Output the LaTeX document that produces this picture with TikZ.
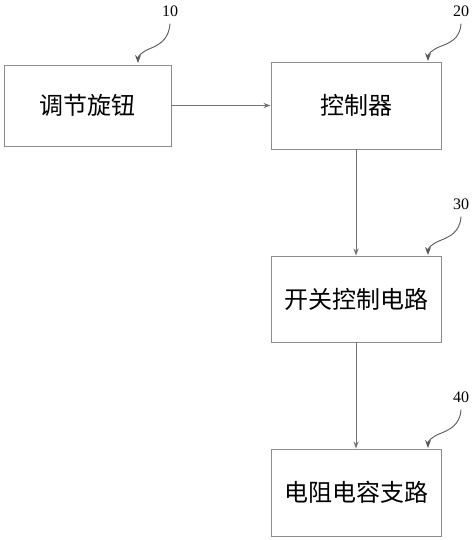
\documentclass[tikz,border=0pt]{standalone}
\usepackage{fontspec}
\setmainfont{Liberation Serif}
\newfontfamily\cjk{Noto Sans CJK SC}
\usetikzlibrary{arrows.meta,calc}
\begin{document}
\begin{tikzpicture}[x=1pt,y=-1pt,
  boxst/.style={draw=black!45,line width=0.9pt,minimum width=#1,inner sep=0pt,font=\cjk\fontsize{24}{24}\selectfont},
  conn/.style={draw=black!55,line width=0.9pt,-{Stealth[length=7pt,width=5pt]}},
  lbl/.style={font=\fontsize{16}{16}\selectfont,inner sep=0pt},
  lead/.style={draw=black!65,line width=0.9pt,-{Stealth[length=8pt,width=6pt]}}]
\useasboundingbox (0,0) rectangle (474,540);
\node[boxst=167pt,minimum height=81pt] (b1) at (87.5,105.5) {调节旋钮};
\node[boxst=170pt,minimum height=87pt] (b2) at (356,105.5) {控制器};
\node[boxst=170pt,minimum height=86pt] (b3) at (356,299) {开关控制电路};
\node[boxst=170pt,minimum height=87pt] (b4) at (356,492.5) {电阻电容支路};
\draw[conn] (b1.east) -- (b2.west);
\draw[conn] (b2.south) -- (b3.north);
\draw[conn] (b3.south) -- (b4.north);
\node[lbl] (l1) at (170,11) {10};
\node[lbl] (l2) at (461,11) {20};
\node[lbl] (l3) at (461,204) {30};
\node[lbl] (l4) at (461,397) {40};
\coordinate (t1) at (138,63);
\coordinate (t2) at (428,61);
\coordinate (t3) at (428,255);
\coordinate (t4) at (428,448);
\foreach \l/\t in {l1/t1,l2/t2,l3/t3,l4/t4}{
  \draw[lead] ($(\l.south)+(0,7)$) .. controls +(-1,16) and +(10,-4) .. ($(\t)+(11,-14)$) .. controls +(-7,3) and +(0,-7) .. (\t);
}
\end{tikzpicture}
\end{document}
